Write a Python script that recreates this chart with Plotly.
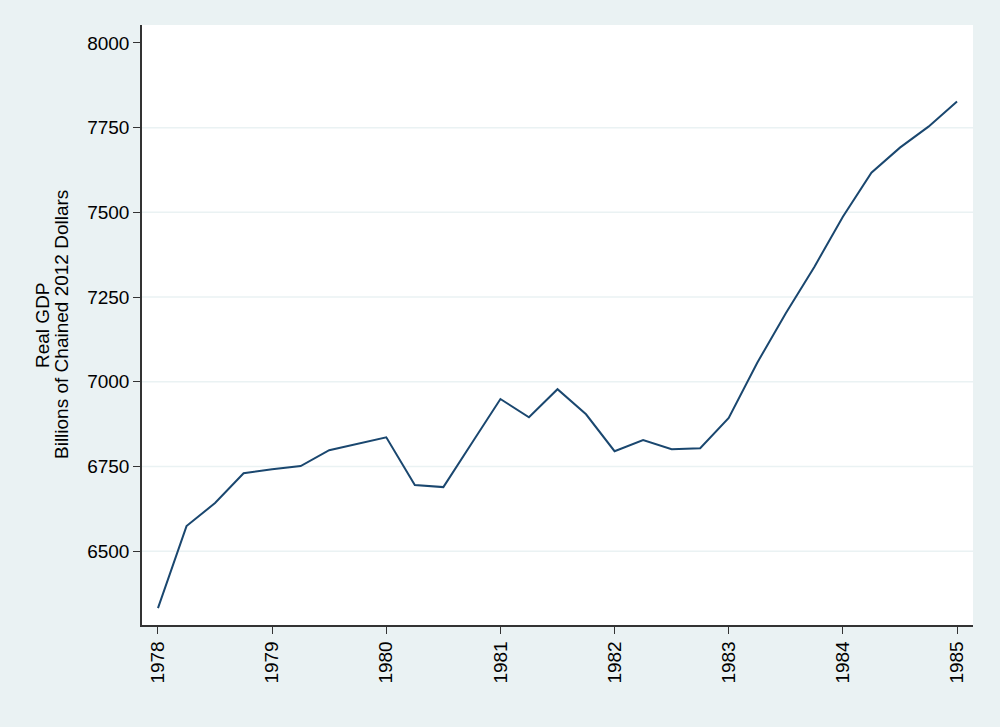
import pandas as pd
import plotly.graph_objects as go

# quarterly real GDP, billions of chained 2012 dollars
quarters = pd.period_range("1978Q1", "1985Q1", freq="Q")
gdp = [6332, 6574, 6642, 6730, 6742, 6751, 6798, 6816, 6836, 6695,
       6689, 6819, 6949, 6895, 6978, 6904, 6795, 6828, 6801, 6804,
       6893, 7056, 7202, 7339, 7487, 7617, 7691, 7753, 7827]

year_ticks = list(range(1978, 1986))
y_ticks = [6500, 6750, 7000, 7250, 7500, 7750, 8000]
grid_vals = [6500, 6750, 7000, 7250, 7500, 7750]
y_title = ["Real GDP", "Billions of Chained 2012 Dollars"]

x = [q.year + (q.quarter - 1) / 4 for q in quarters]

bg = "#EAF2F3"
fig = go.Figure()
fig.add_trace(go.Scatter(x=x, y=gdp, mode="lines",
                         line=dict(color="#1a476f", width=2)))

for g in grid_vals:
    fig.add_shape(type="line", xref="paper", yref="y", x0=0, x1=1, y0=g, y1=g,
                  line=dict(color=bg, width=1.5), layer="below")

# two-line y title, tight Stata-like line spacing
for txt, shift in zip(y_title, [-100, -81]):
    fig.add_annotation(text=txt, xref="paper", yref="paper", x=0, y=0.5,
                       xanchor="center", yanchor="middle", xshift=shift,
                       textangle=-90, showarrow=False, font=dict(size=19))

fig.update_layout(
    width=1000, height=727,
    paper_bgcolor=bg, plot_bgcolor="white",
    margin=dict(l=142, r=27, t=25, b=102),
    showlegend=False,
    font=dict(family="Liberation Sans, Arial, sans-serif", size=19, color="black"),
)
fig.update_xaxes(
    range=[1977.86, 1985.14], tickvals=year_ticks, ticktext=[str(v) for v in year_ticks],
    tickangle=-90, ticks="outside", ticklen=7, tickcolor="#333",
    showline=True, linecolor="#333", linewidth=1.5, showgrid=False, zeroline=False,
)
fig.update_yaxes(
    range=[6282, 8053], tickvals=y_ticks, ticks="outside", ticklen=7, tickcolor="#333",
    showline=True, linecolor="#333", linewidth=1.5, showgrid=False, zeroline=False,
)

fig.write_html("out.html", config={"displayModeBar": False},
               post_script="document.body.style.margin='0';")
